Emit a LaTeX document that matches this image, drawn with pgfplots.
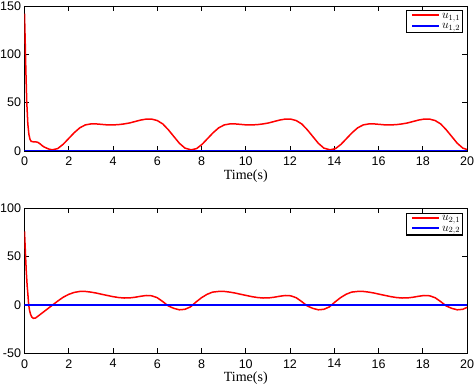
\documentclass[border=0pt]{standalone}
\usepackage{fontspec}
\setmainfont{Liberation Serif}
\setsansfont{Liberation Sans}
\usepackage{pgfplots}
\pgfplotsset{compat=1.18}
\newcommand{\legline}[1]{\hspace{3pt}\textcolor{#1}{\rule[2.1pt]{27pt}{1.9pt}}\hspace{3pt}}
\pgfplotsset{
  myax/.style={
    scale only axis, width=442.5pt, height=145pt,
    xmin=0, xmax=20, xtick={0,2,...,20},
    tick align=inside, major tick length=5pt,
    axis line style={line width=0.8pt},
    every tick/.style={black, line width=0.7pt},
    /pgf/number format/assume math mode=true,
    tick label style={font=\sffamily\fontsize{12.5}{12.5}\selectfont},
    xticklabel style={yshift=-2.5pt},
    xlabel={Time(s)},
    xlabel style={at={(axis description cs:0.5,0)}, anchor=center, yshift=-25pt, font=\rmfamily\fontsize{14}{14}\selectfont},
    legend cell align=left,
    legend plot pos=none,
    legend style={at={(1,1)}, anchor=north east, xshift=-4pt, yshift=-4.3pt,
      draw=black, line width=1.2pt, inner sep=1.5pt, row sep=2.2pt,
      nodes={inner sep=0.8pt},
      font=\fontsize{11.5}{11.5}\selectfont},
  },
}
\begin{document}
\begin{tikzpicture}[x=1pt,y=1pt]
\useasboundingbox (0,0) rectangle (474,386);
\begin{axis}[myax, at={(24.5pt,235pt)}, anchor=south west,
  ymin=0, ymax=150, ytick={0,50,100,150}]
\addplot[color=red, line width=1.5pt] coordinates {
(0,142) (0.03,115) (0.06,85) (0.1,52) (0.15,28) (0.2,17) (0.25,12) (0.3,10) (0.4,9.5) (0.5,9.5) (0.6,9) (0.7,7.5) (0.8,5.5) (0.9,4) (1.0,3) (1.1,2) (1.25,1.2)
(1.5,2.5) (1.75,7) (2.0,13) (2.25,19) (2.5,24) (2.75,27) (3.0,28) (3.25,28) (3.5,27.5) (3.75,27) (4.0,27) (4.25,27.3) (4.5,28) (4.75,29) (5.0,30.5) (5.25,32) (5.5,33) (5.75,33) (6.0,31.5) (6.25,28) (6.5,22) (6.75,15) (7.0,8) (7.25,3) (7.53,1.2)
(7.78,2.5) (8.03,7) (8.28,13) (8.53,19) (8.78,24) (9.03,27) (9.28,28) (9.53,28) (9.78,27.5) (10.03,27) (10.28,27) (10.53,27.3) (10.78,28) (11.03,29) (11.28,30.5) (11.53,32) (11.78,33) (12.03,33) (12.28,31.5) (12.53,28) (12.78,22) (13.03,15) (13.28,8) (13.53,3) (13.81,1.2)
(14.06,2.5) (14.31,7) (14.56,13) (14.81,19) (15.06,24) (15.31,27) (15.56,28) (15.81,28) (16.06,27.5) (16.31,27) (16.56,27) (16.81,27.3) (17.06,28) (17.31,29) (17.56,30.5) (17.81,32) (18.06,33) (18.31,33) (18.56,31.5) (18.81,28) (19.06,22) (19.31,15) (19.56,8) (19.81,3) (20.0,1.6)
};
\addlegendentry{\legline{red}$u_{1,1}$}
\addplot[color=blue, line width=1.6pt] coordinates {(0,0) (20,0)};
\addlegendentry{\legline{blue}$u_{1,2}$}
\end{axis}
\begin{axis}[myax, at={(24.5pt,32.7pt)}, anchor=south west,
  ymin=-50, ymax=100, ytick={-50,0,50,100}]
\addplot[color=red, line width=1.5pt] coordinates {
(0,76) (0.04,55) (0.08,35) (0.12,20) (0.15,12) (0.19,0) (0.23,-6) (0.28,-10) (0.33,-12.5) (0.4,-13.8) (0.5,-13.5) (0.7,-10) (0.9,-6.5) (1.1,-3) (1.3,0.5) (1.5,4) (1.75,8) (2.0,11) (2.25,13) (2.5,14)
(2.75,14) (3.0,13.3) (3.25,12.3) (3.5,11) (3.75,9.8) (4.0,8.6) (4.25,7.7) (4.5,7.2) (4.75,7.3) (5.0,8) (5.25,9) (5.5,9.8) (5.75,9.5) (6.0,7.5) (6.25,3.5) (6.5,-1) (6.75,-3.5) (7.0,-5) (7.25,-4.5) (7.5,-2) (7.75,3) (8.0,7.5) (8.25,11) (8.5,13.3) (8.78,14)
(9.03,14) (9.28,13.3) (9.53,12.3) (9.78,11) (10.03,9.8) (10.28,8.6) (10.53,7.7) (10.78,7.2) (11.03,7.3) (11.28,8) (11.53,9) (11.78,9.8) (12.03,9.5) (12.28,7.5) (12.53,3.5) (12.78,-1) (13.03,-3.5) (13.28,-5) (13.53,-4.5) (13.78,-2) (14.03,3) (14.28,7.5) (14.53,11) (14.78,13.3) (15.06,14)
(15.31,14) (15.56,13.3) (15.81,12.3) (16.06,11) (16.31,9.8) (16.56,8.6) (16.81,7.7) (17.06,7.2) (17.31,7.3) (17.56,8) (17.81,9) (18.06,9.8) (18.31,9.5) (18.56,7.5) (18.81,3.5) (19.06,-1) (19.31,-3.5) (19.56,-5) (19.81,-4.5) (20.0,-2.5)
};
\addlegendentry{\legline{red}$u_{2,1}$}
\addplot[color=blue, line width=1.6pt] coordinates {(0,0) (20,0)};
\addlegendentry{\legline{blue}$u_{2,2}$}
\end{axis}
\end{tikzpicture}
\end{document}
